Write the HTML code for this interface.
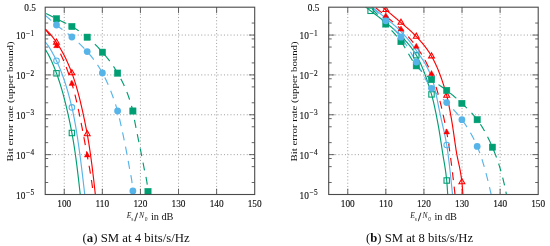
<!DOCTYPE html><html><head><meta charset="utf-8"><title>BER plots</title><style>html,body{margin:0;padding:0;background:#fff;}body{width:550px;height:246px;overflow:hidden;}svg{display:block;}</style></head><body>
<svg width="550" height="246" viewBox="0 0 550 246">
<defs>
<clipPath id="c1"><rect x="45.2" y="7.2" width="209.5" height="187.3"/></clipPath>
<clipPath id="c2"><rect x="328.7" y="7.2" width="209.5" height="187.3"/></clipPath>
</defs>
<rect width="550" height="246" fill="#fff"/>
<g stroke="#8c8c8c" stroke-width="0.8" stroke-dasharray="1.05 2.2" fill="none">
<line x1="64.25" y1="7.2" x2="64.25" y2="194.5"/>
<line x1="102.34" y1="7.2" x2="102.34" y2="194.5"/>
<line x1="140.43" y1="7.2" x2="140.43" y2="194.5"/>
<line x1="178.52" y1="7.2" x2="178.52" y2="194.5"/>
<line x1="216.61" y1="7.2" x2="216.61" y2="194.5"/>
<line x1="45.2" y1="35.06" x2="254.7" y2="35.06"/>
<line x1="45.2" y1="74.92" x2="254.7" y2="74.92"/>
<line x1="45.2" y1="114.78" x2="254.7" y2="114.78"/>
<line x1="45.2" y1="154.64" x2="254.7" y2="154.64"/>
</g>
<g stroke="#4a4a4a" stroke-width="0.85" fill="none">
<line x1="64.25" y1="7.2" x2="64.25" y2="13"/>
<line x1="64.25" y1="194.5" x2="64.25" y2="188.7"/>
<line x1="102.34" y1="7.2" x2="102.34" y2="13"/>
<line x1="102.34" y1="194.5" x2="102.34" y2="188.7"/>
<line x1="140.43" y1="7.2" x2="140.43" y2="13"/>
<line x1="140.43" y1="194.5" x2="140.43" y2="188.7"/>
<line x1="178.52" y1="7.2" x2="178.52" y2="13"/>
<line x1="178.52" y1="194.5" x2="178.52" y2="188.7"/>
<line x1="216.61" y1="7.2" x2="216.61" y2="13"/>
<line x1="216.61" y1="194.5" x2="216.61" y2="188.7"/>
<line x1="45.2" y1="35.06" x2="51" y2="35.06"/>
<line x1="254.7" y1="35.06" x2="248.9" y2="35.06"/>
<line x1="45.2" y1="74.92" x2="51" y2="74.92"/>
<line x1="254.7" y1="74.92" x2="248.9" y2="74.92"/>
<line x1="45.2" y1="114.78" x2="51" y2="114.78"/>
<line x1="254.7" y1="114.78" x2="248.9" y2="114.78"/>
<line x1="45.2" y1="154.64" x2="51" y2="154.64"/>
<line x1="254.7" y1="154.64" x2="248.9" y2="154.64"/>
<line x1="45.2" y1="182.5" x2="48.2" y2="182.5"/>
<line x1="254.7" y1="182.5" x2="251.7" y2="182.5"/>
<line x1="45.2" y1="166.64" x2="48.2" y2="166.64"/>
<line x1="254.7" y1="166.64" x2="251.7" y2="166.64"/>
<line x1="45.2" y1="158.5" x2="48.2" y2="158.5"/>
<line x1="254.7" y1="158.5" x2="251.7" y2="158.5"/>
<line x1="45.2" y1="142.64" x2="48.2" y2="142.64"/>
<line x1="254.7" y1="142.64" x2="251.7" y2="142.64"/>
<line x1="45.2" y1="126.78" x2="48.2" y2="126.78"/>
<line x1="254.7" y1="126.78" x2="251.7" y2="126.78"/>
<line x1="45.2" y1="118.64" x2="48.2" y2="118.64"/>
<line x1="254.7" y1="118.64" x2="251.7" y2="118.64"/>
<line x1="45.2" y1="102.78" x2="48.2" y2="102.78"/>
<line x1="254.7" y1="102.78" x2="251.7" y2="102.78"/>
<line x1="45.2" y1="86.92" x2="48.2" y2="86.92"/>
<line x1="254.7" y1="86.92" x2="251.7" y2="86.92"/>
<line x1="45.2" y1="78.78" x2="48.2" y2="78.78"/>
<line x1="254.7" y1="78.78" x2="251.7" y2="78.78"/>
<line x1="45.2" y1="62.92" x2="48.2" y2="62.92"/>
<line x1="254.7" y1="62.92" x2="251.7" y2="62.92"/>
<line x1="45.2" y1="47.06" x2="48.2" y2="47.06"/>
<line x1="254.7" y1="47.06" x2="251.7" y2="47.06"/>
<line x1="45.2" y1="38.92" x2="48.2" y2="38.92"/>
<line x1="254.7" y1="38.92" x2="251.7" y2="38.92"/>
<line x1="45.2" y1="23.06" x2="48.2" y2="23.06"/>
<line x1="254.7" y1="23.06" x2="251.7" y2="23.06"/>
</g>
<g clip-path="url(#c1)">
<path d="M45.2 49.5L45.45 49.84L45.7 50.2L45.95 50.56L46.2 50.93L46.45 51.32L46.7 51.71L46.95 52.11L47.2 52.52L47.45 52.94L47.7 53.37L47.95 53.81L48.2 54.26L48.45 54.71L48.7 55.18L48.94 55.65L49.19 56.13L49.44 56.62L49.69 57.12L49.94 57.62L50.19 58.13L50.44 58.65L50.69 59.18L50.94 59.72L51.19 60.26L51.44 60.81L51.69 61.37L51.94 61.93L52.19 62.5L52.44 63.08L52.69 63.66L52.94 64.25L53.19 64.85L53.44 65.45L53.69 66.06L53.94 66.67L54.19 67.3L54.44 67.92L54.69 68.55L54.94 69.19L55.19 69.83L55.44 70.48L55.69 71.13L55.93 71.79L56.18 72.46L56.43 73.12L56.68 73.8L56.93 74.48L57.18 75.17L57.43 75.87L57.68 76.57L57.93 77.29L58.18 78.01L58.43 78.74L58.68 79.48L58.93 80.23L59.18 80.99L59.43 81.76L59.68 82.53L59.93 83.32L60.18 84.11L60.43 84.92L60.68 85.73L60.93 86.55L61.18 87.38L61.43 88.22L61.68 89.07L61.93 89.94L62.18 90.81L62.43 91.68L62.68 92.57L62.93 93.47L63.17 94.38L63.42 95.3L63.67 96.23L63.92 97.17L64.17 98.12L64.42 99.08L64.67 100.05L64.92 101.03L65.17 102.03L65.42 103.03L65.67 104.04L65.92 105.07L66.17 106.1L66.42 107.15L66.67 108.2L66.92 109.27L67.17 110.35L67.42 111.44L67.67 112.54L67.92 113.66L68.17 114.78L68.42 115.92L68.67 117.06L68.92 118.22L69.17 119.39L69.42 120.58L69.67 121.77L69.92 122.98L70.17 124.2L70.41 125.43L70.66 126.67L70.91 127.92L71.16 129.19L71.41 130.47L71.66 131.76L71.91 133.07L72.16 134.4L72.41 135.76L72.66 137.16L72.91 138.59L73.16 140.05L73.41 141.55L73.66 143.08L73.91 144.65L74.16 146.25L74.41 147.88L74.66 149.54L74.91 151.24L75.16 152.96L75.41 154.72L75.66 156.51L75.91 158.33L76.16 160.18L76.41 162.07L76.66 163.98L76.91 165.92L77.16 167.9L77.4 169.9L77.65 171.93L77.9 174L78.15 176.09L78.4 178.21L78.65 180.36L78.9 182.53L79.15 184.74L79.4 186.97L79.65 189.24L79.9 191.53L80.15 193.84L80.4 196.33L80.65 199.13L80.9 202" fill="none" stroke="#009e73" stroke-width="1.15" stroke-linejoin="round"/>
<path d="M45.2 42L45.45 42.28L45.7 42.56L45.95 42.85L46.2 43.15L46.45 43.45L46.7 43.76L46.95 44.08L47.2 44.41L47.45 44.75L47.7 45.09L47.95 45.43L48.2 45.79L48.45 46.15L48.7 46.52L48.95 46.89L49.2 47.27L49.44 47.66L49.69 48.05L49.94 48.45L50.19 48.86L50.44 49.27L50.69 49.68L50.94 50.11L51.19 50.53L51.44 50.97L51.69 51.41L51.94 51.85L52.19 52.3L52.44 52.76L52.69 53.22L52.94 53.68L53.19 54.15L53.44 54.63L53.69 55.1L53.94 55.59L54.19 56.08L54.44 56.57L54.69 57.07L54.94 57.57L55.19 58.08L55.44 58.59L55.69 59.1L55.94 59.62L56.19 60.14L56.44 60.66L56.69 61.19L56.94 61.73L57.19 62.27L57.43 62.81L57.68 63.36L57.93 63.92L58.18 64.48L58.43 65.05L58.68 65.62L58.93 66.2L59.18 66.78L59.43 67.38L59.68 67.97L59.93 68.58L60.18 69.19L60.43 69.81L60.68 70.43L60.93 71.06L61.18 71.7L61.43 72.34L61.68 73L61.93 73.66L62.18 74.32L62.43 75L62.68 75.68L62.93 76.37L63.18 77.07L63.43 77.78L63.68 78.49L63.93 79.22L64.18 79.95L64.43 80.69L64.68 81.44L64.93 82.2L65.18 82.96L65.42 83.74L65.67 84.52L65.92 85.32L66.17 86.12L66.42 86.93L66.67 87.76L66.92 88.59L67.17 89.43L67.42 90.28L67.67 91.15L67.92 92.02L68.17 92.9L68.42 93.8L68.67 94.7L68.92 95.62L69.17 96.54L69.42 97.48L69.67 98.43L69.92 99.38L70.17 100.35L70.42 101.34L70.67 102.33L70.92 103.33L71.17 104.35L71.42 105.38L71.67 106.42L71.92 107.47L72.17 108.54L72.42 109.65L72.67 110.77L72.92 111.93L73.17 113.11L73.41 114.32L73.66 115.56L73.91 116.82L74.16 118.11L74.41 119.43L74.66 120.77L74.91 122.14L75.16 123.53L75.41 124.95L75.66 126.4L75.91 127.87L76.16 129.36L76.41 130.88L76.66 132.43L76.91 134L77.16 135.59L77.41 137.21L77.66 138.85L77.91 140.52L78.16 142.21L78.41 143.92L78.66 145.66L78.91 147.42L79.16 149.2L79.41 151L79.66 152.83L79.91 154.68L80.16 156.55L80.41 158.45L80.66 160.36L80.91 162.3L81.16 164.26L81.4 166.24L81.65 168.24L81.9 170.27L82.15 172.31L82.4 174.37L82.65 176.46L82.9 178.56L83.15 180.69L83.4 182.84L83.65 185L83.9 187.19L84.15 189.39L84.4 191.61L84.65 193.86L84.9 196.3L85.15 199.12L85.4 202" fill="none" stroke="#56b4e9" stroke-width="1.15" stroke-linejoin="round"/>
<path d="M45.2 29L45.45 29.21L45.7 29.43L45.95 29.65L46.2 29.88L46.45 30.11L46.69 30.34L46.94 30.58L47.19 30.82L47.44 31.06L47.69 31.31L47.94 31.57L48.19 31.83L48.44 32.09L48.69 32.35L48.94 32.62L49.18 32.9L49.43 33.17L49.68 33.45L49.93 33.74L50.18 34.03L50.43 34.32L50.68 34.61L50.93 34.91L51.18 35.21L51.43 35.52L51.67 35.83L51.92 36.14L52.17 36.45L52.42 36.77L52.67 37.09L52.92 37.42L53.17 37.75L53.42 38.08L53.67 38.41L53.92 38.75L54.16 39.09L54.41 39.43L54.66 39.77L54.91 40.12L55.16 40.47L55.41 40.82L55.66 41.18L55.91 41.54L56.16 41.9L56.41 42.26L56.65 42.63L56.9 43L57.15 43.37L57.4 43.74L57.65 44.12L57.9 44.51L58.15 44.89L58.4 45.28L58.65 45.67L58.9 46.07L59.15 46.47L59.39 46.87L59.64 47.28L59.89 47.69L60.14 48.11L60.39 48.53L60.64 48.95L60.89 49.38L61.14 49.81L61.39 50.24L61.64 50.68L61.88 51.12L62.13 51.57L62.38 52.02L62.63 52.48L62.88 52.94L63.13 53.41L63.38 53.88L63.63 54.35L63.88 54.83L64.13 55.31L64.37 55.8L64.62 56.3L64.87 56.8L65.12 57.3L65.37 57.81L65.62 58.32L65.87 58.84L66.12 59.36L66.37 59.89L66.62 60.43L66.86 60.97L67.11 61.51L67.36 62.06L67.61 62.62L67.86 63.18L68.11 63.74L68.36 64.32L68.61 64.9L68.86 65.48L69.11 66.07L69.35 66.66L69.6 67.27L69.85 67.87L70.1 68.49L70.35 69.11L70.6 69.73L70.85 70.36L71.1 71L71.35 71.65L71.6 72.3L71.85 72.95L72.09 73.62L72.34 74.29L72.59 74.98L72.84 75.68L73.09 76.38L73.34 77.1L73.59 77.82L73.84 78.56L74.09 79.31L74.34 80.07L74.58 80.84L74.83 81.62L75.08 82.41L75.33 83.21L75.58 84.02L75.83 84.84L76.08 85.67L76.33 86.51L76.58 87.37L76.83 88.23L77.07 89.11L77.32 89.99L77.57 90.89L77.82 91.8L78.07 92.72L78.32 93.64L78.57 94.58L78.82 95.53L79.07 96.5L79.32 97.47L79.56 98.45L79.81 99.45L80.06 100.45L80.31 101.47L80.56 102.49L80.81 103.53L81.06 104.58L81.31 105.64L81.56 106.71L81.81 107.8L82.05 108.89L82.3 109.99L82.55 111.11L82.8 112.24L83.05 113.37L83.3 114.52L83.55 115.68L83.8 116.86L84.05 118.04L84.3 119.23L84.55 120.44L84.79 121.66L85.04 122.88L85.29 124.12L85.54 125.37L85.79 126.64L86.04 127.91L86.29 129.2L86.54 130.49L86.79 131.8L87.04 133.12L87.28 134.45L87.53 135.82L87.78 137.21L88.03 138.64L88.28 140.1L88.53 141.6L88.78 143.13L89.03 144.69L89.28 146.29L89.53 147.92L89.77 149.58L90.02 151.27L90.27 152.99L90.52 154.75L90.77 156.54L91.02 158.36L91.27 160.21L91.52 162.09L91.77 164L92.02 165.94L92.26 167.91L92.51 169.91L92.76 171.95L93.01 174.01L93.26 176.1L93.51 178.22L93.76 180.37L94.01 182.55L94.26 184.75L94.51 186.99L94.75 189.25L95 191.54L95.25 193.86L95.5 196.34L95.75 199.14L96 202" fill="none" stroke="#ff0000" stroke-width="1.15" stroke-linejoin="round"/>
<path d="M45.2 29.5L45.45 29.76L45.7 30.03L45.95 30.3L46.2 30.58L46.44 30.86L46.69 31.15L46.94 31.45L47.19 31.74L47.44 32.05L47.69 32.35L47.94 32.67L48.19 32.99L48.44 33.31L48.69 33.64L48.93 33.97L49.18 34.3L49.43 34.65L49.68 34.99L49.93 35.34L50.18 35.7L50.43 36.05L50.68 36.42L50.93 36.78L51.18 37.16L51.42 37.53L51.67 37.91L51.92 38.29L52.17 38.68L52.42 39.07L52.67 39.47L52.92 39.87L53.17 40.27L53.42 40.68L53.67 41.09L53.91 41.5L54.16 41.92L54.41 42.34L54.66 42.76L54.91 43.19L55.16 43.62L55.41 44.06L55.66 44.5L55.91 44.94L56.16 45.38L56.4 45.83L56.65 46.28L56.9 46.73L57.15 47.19L57.4 47.65L57.65 48.12L57.9 48.59L58.15 49.07L58.4 49.55L58.64 50.03L58.89 50.52L59.14 51.02L59.39 51.52L59.64 52.02L59.89 52.53L60.14 53.04L60.39 53.56L60.64 54.08L60.89 54.61L61.13 55.14L61.38 55.68L61.63 56.22L61.88 56.77L62.13 57.32L62.38 57.88L62.63 58.45L62.88 59.02L63.13 59.59L63.38 60.17L63.62 60.76L63.87 61.35L64.12 61.95L64.37 62.55L64.62 63.16L64.87 63.77L65.12 64.39L65.37 65.02L65.62 65.65L65.87 66.29L66.11 66.93L66.36 67.58L66.61 68.24L66.86 68.9L67.11 69.57L67.36 70.24L67.61 70.92L67.86 71.61L68.11 72.3L68.36 73L68.6 73.71L68.85 74.42L69.1 75.14L69.35 75.87L69.6 76.6L69.85 77.34L70.1 78.09L70.35 78.84L70.6 79.6L70.84 80.37L71.09 81.14L71.34 81.93L71.59 82.71L71.84 83.51L72.09 84.32L72.34 85.14L72.59 85.98L72.84 86.83L73.09 87.7L73.33 88.59L73.58 89.49L73.83 90.41L74.08 91.34L74.33 92.29L74.58 93.25L74.83 94.23L75.08 95.22L75.33 96.23L75.58 97.25L75.82 98.28L76.07 99.32L76.32 100.38L76.57 101.45L76.82 102.53L77.07 103.63L77.32 104.73L77.57 105.85L77.82 106.98L78.07 108.12L78.31 109.27L78.56 110.44L78.81 111.61L79.06 112.79L79.31 113.98L79.56 115.18L79.81 116.39L80.06 117.62L80.31 118.84L80.56 120.08L80.8 121.33L81.05 122.58L81.3 123.84L81.55 125.11L81.8 126.39L82.05 127.67L82.3 128.96L82.55 130.26L82.8 131.57L83.04 132.87L83.29 134.19L83.54 135.51L83.79 136.84L84.04 138.17L84.29 139.51L84.54 140.85L84.79 142.19L85.04 143.54L85.29 144.89L85.53 146.25L85.78 147.61L86.03 148.97L86.28 150.34L86.53 151.71L86.78 153.08L87.03 154.45L87.28 155.83L87.53 157.19L87.78 158.55L88.02 159.91L88.27 161.26L88.52 162.62L88.77 163.99L89.02 165.36L89.27 166.75L89.52 168.16L89.77 169.59L90.02 171.05L90.27 172.53L90.51 174.05L90.76 175.6L91.01 177.19L91.26 178.83L91.51 180.51L91.76 182.24L92.01 184.03L92.26 185.87L92.51 187.77L92.76 189.74L93 191.78L93.25 193.89L93.5 196.27L93.75 199.08L94 202" fill="none" stroke="#ff0000" stroke-width="1.15" stroke-linejoin="round" stroke-dasharray="8 6.5" stroke-dashoffset="0.3"/>
<path d="M45.2 13L45.45 13.13L45.7 13.26L45.95 13.39L46.2 13.52L46.45 13.65L46.7 13.78L46.95 13.9L47.2 14.03L47.45 14.16L47.7 14.29L47.94 14.42L48.19 14.55L48.44 14.68L48.69 14.81L48.94 14.94L49.19 15.06L49.44 15.19L49.69 15.32L49.94 15.45L50.19 15.58L50.44 15.71L50.69 15.83L50.94 15.96L51.19 16.09L51.44 16.22L51.69 16.35L51.94 16.47L52.19 16.6L52.44 16.73L52.69 16.86L52.94 16.99L53.18 17.11L53.43 17.24L53.68 17.37L53.93 17.49L54.18 17.62L54.43 17.75L54.68 17.88L54.93 18L55.18 18.13L55.43 18.26L55.68 18.38L55.93 18.51L56.18 18.64L56.43 18.76L56.68 18.89L56.93 19.02L57.18 19.14L57.43 19.26L57.68 19.39L57.93 19.51L58.17 19.63L58.42 19.75L58.67 19.88L58.92 20L59.17 20.12L59.42 20.24L59.67 20.36L59.92 20.48L60.17 20.59L60.42 20.71L60.67 20.83L60.92 20.95L61.17 21.07L61.42 21.19L61.67 21.3L61.92 21.42L62.17 21.54L62.42 21.66L62.67 21.78L62.92 21.89L63.17 22.01L63.41 22.13L63.66 22.25L63.91 22.37L64.16 22.49L64.41 22.6L64.66 22.72L64.91 22.84L65.16 22.96L65.41 23.09L65.66 23.21L65.91 23.33L66.16 23.45L66.41 23.57L66.66 23.7L66.91 23.82L67.16 23.95L67.41 24.07L67.66 24.2L67.91 24.33L68.16 24.45L68.41 24.58L68.65 24.71L68.9 24.84L69.15 24.98L69.4 25.11L69.65 25.24L69.9 25.38L70.15 25.51L70.4 25.65L70.65 25.79L70.9 25.93L71.15 26.07L71.4 26.21L71.65 26.35L71.9 26.5L72.15 26.64L72.4 26.79L72.65 26.94L72.9 27.09L73.15 27.24L73.4 27.39L73.64 27.54L73.89 27.69L74.14 27.85L74.39 28L74.64 28.16L74.89 28.31L75.14 28.47L75.39 28.63L75.64 28.79L75.89 28.95L76.14 29.11L76.39 29.27L76.64 29.43L76.89 29.59L77.14 29.76L77.39 29.92L77.64 30.09L77.89 30.26L78.14 30.43L78.39 30.6L78.64 30.77L78.88 30.94L79.13 31.11L79.38 31.28L79.63 31.46L79.88 31.63L80.13 31.81L80.38 31.99L80.63 32.16L80.88 32.34L81.13 32.52L81.38 32.7L81.63 32.89L81.88 33.07L82.13 33.25L82.38 33.44L82.63 33.62L82.88 33.81L83.13 34L83.38 34.19L83.63 34.38L83.88 34.57L84.12 34.76L84.37 34.95L84.62 35.14L84.87 35.34L85.12 35.53L85.37 35.73L85.62 35.93L85.87 36.13L86.12 36.33L86.37 36.53L86.62 36.73L86.87 36.93L87.12 37.13L87.37 37.34L87.62 37.54L87.87 37.75L88.12 37.96L88.37 38.17L88.62 38.38L88.87 38.6L89.11 38.81L89.36 39.03L89.61 39.24L89.86 39.46L90.11 39.68L90.36 39.9L90.61 40.13L90.86 40.35L91.11 40.58L91.36 40.8L91.61 41.03L91.86 41.26L92.11 41.49L92.36 41.72L92.61 41.96L92.86 42.19L93.11 42.43L93.36 42.67L93.61 42.91L93.86 43.15L94.11 43.39L94.35 43.63L94.6 43.88L94.85 44.13L95.1 44.37L95.35 44.62L95.6 44.87L95.85 45.12L96.1 45.38L96.35 45.63L96.6 45.89L96.85 46.14L97.1 46.4L97.35 46.66L97.6 46.92L97.85 47.19L98.1 47.45L98.35 47.71L98.6 47.98L98.85 48.25L99.1 48.52L99.35 48.79L99.59 49.06L99.84 49.33L100.09 49.61L100.34 49.88L100.59 50.16L100.84 50.44L101.09 50.71L101.34 51L101.59 51.28L101.84 51.56L102.09 51.84L102.34 52.13L102.59 52.42L102.84 52.7L103.09 52.99L103.34 53.28L103.59 53.57L103.84 53.86L104.09 54.15L104.34 54.44L104.59 54.74L104.83 55.03L105.08 55.33L105.33 55.62L105.58 55.92L105.83 56.22L106.08 56.52L106.33 56.82L106.58 57.13L106.83 57.43L107.08 57.74L107.33 58.05L107.58 58.36L107.83 58.67L108.08 58.98L108.33 59.3L108.58 59.62L108.83 59.94L109.08 60.26L109.33 60.58L109.58 60.91L109.82 61.24L110.07 61.57L110.32 61.91L110.57 62.25L110.82 62.59L111.07 62.93L111.32 63.27L111.57 63.62L111.82 63.97L112.07 64.33L112.32 64.69L112.57 65.05L112.82 65.41L113.07 65.78L113.32 66.15L113.57 66.52L113.82 66.9L114.07 67.28L114.32 67.67L114.57 68.05L114.82 68.45L115.06 68.84L115.31 69.24L115.56 69.65L115.81 70.05L116.06 70.47L116.31 70.88L116.56 71.3L116.81 71.73L117.06 72.16L117.31 72.59L117.56 73.03L117.81 73.47L118.06 73.91L118.31 74.36L118.56 74.8L118.81 75.24L119.06 75.69L119.31 76.14L119.56 76.59L119.81 77.05L120.06 77.5L120.3 77.96L120.55 78.42L120.8 78.89L121.05 79.36L121.3 79.84L121.55 80.31L121.8 80.8L122.05 81.28L122.3 81.78L122.55 82.28L122.8 82.78L123.05 83.29L123.3 83.81L123.55 84.33L123.8 84.86L124.05 85.39L124.3 85.94L124.55 86.49L124.8 87.04L125.05 87.61L125.29 88.19L125.54 88.77L125.79 89.36L126.04 89.96L126.29 90.57L126.54 91.19L126.79 91.82L127.04 92.46L127.29 93.11L127.54 93.77L127.79 94.44L128.04 95.12L128.29 95.82L128.54 96.52L128.79 97.24L129.04 97.97L129.29 98.71L129.54 99.46L129.79 100.23L130.04 101.01L130.29 101.81L130.53 102.61L130.78 103.43L131.03 104.27L131.28 105.12L131.53 105.99L131.78 106.87L132.03 107.76L132.28 108.67L132.53 109.6L132.78 110.54L133.03 111.54L133.28 112.76L133.53 114.16L133.78 115.67L134.03 117.23L134.28 118.74L134.53 120.15L134.78 121.48L135.03 122.8L135.28 124.11L135.53 125.41L135.77 126.69L136.02 127.96L136.27 129.22L136.52 130.48L136.77 131.72L137.02 132.96L137.27 134.19L137.52 135.41L137.77 136.63L138.02 137.85L138.27 139.06L138.52 140.27L138.77 141.48L139.02 142.68L139.27 143.89L139.52 145.09L139.77 146.3L140.02 147.51L140.27 148.73L140.52 149.94L140.76 151.16L141.01 152.39L141.26 153.63L141.51 154.87L141.76 156.11L142.01 157.37L142.26 158.64L142.51 159.92L142.76 161.21L143.01 162.51L143.26 163.82L143.51 165.15L143.76 166.49L144.01 167.85L144.26 169.22L144.51 170.51L144.76 171.7L145.01 172.83L145.26 173.92L145.51 174.99L145.76 176.09L146 177.23L146.25 178.45L146.5 179.77L146.75 181.23L147 182.85L147.25 184.66L147.5 186.68L147.75 188.96L148 191.51L148.25 196.02L148.5 202" fill="none" stroke="#009e73" stroke-width="1.15" stroke-linejoin="round" stroke-dasharray="8 6.5" stroke-dashoffset="13.5"/>
<path d="M45.2 15.2L45.45 15.43L45.7 15.65L45.95 15.88L46.2 16.1L46.45 16.33L46.7 16.55L46.95 16.77L47.2 17L47.45 17.22L47.7 17.44L47.95 17.66L48.2 17.89L48.45 18.11L48.7 18.33L48.95 18.55L49.2 18.77L49.45 18.99L49.7 19.21L49.95 19.43L50.2 19.65L50.45 19.86L50.7 20.08L50.95 20.3L51.2 20.52L51.45 20.73L51.7 20.95L51.95 21.16L52.2 21.38L52.45 21.59L52.7 21.81L52.95 22.02L53.2 22.23L53.45 22.45L53.7 22.66L53.95 22.87L54.19 23.08L54.44 23.29L54.69 23.5L54.94 23.71L55.19 23.92L55.44 24.13L55.69 24.33L55.94 24.54L56.19 24.75L56.44 24.95L56.69 25.16L56.94 25.36L57.19 25.57L57.44 25.77L57.69 25.97L57.94 26.17L58.19 26.36L58.44 26.56L58.69 26.76L58.94 26.95L59.19 27.15L59.44 27.34L59.69 27.53L59.94 27.73L60.19 27.92L60.44 28.11L60.69 28.3L60.94 28.49L61.19 28.68L61.44 28.87L61.69 29.05L61.94 29.24L62.19 29.43L62.44 29.62L62.69 29.8L62.94 29.99L63.19 30.18L63.44 30.36L63.69 30.55L63.94 30.74L64.19 30.92L64.44 31.11L64.69 31.3L64.94 31.49L65.19 31.67L65.44 31.86L65.69 32.05L65.94 32.24L66.19 32.43L66.44 32.62L66.69 32.81L66.94 33L67.19 33.19L67.44 33.39L67.69 33.58L67.94 33.77L68.19 33.97L68.44 34.16L68.69 34.36L68.94 34.56L69.19 34.76L69.44 34.96L69.69 35.16L69.94 35.36L70.19 35.57L70.44 35.77L70.69 35.98L70.94 36.18L71.19 36.39L71.44 36.6L71.68 36.82L71.93 37.03L72.18 37.24L72.43 37.46L72.68 37.67L72.93 37.89L73.18 38.1L73.43 38.32L73.68 38.53L73.93 38.75L74.18 38.97L74.43 39.18L74.68 39.4L74.93 39.62L75.18 39.84L75.43 40.06L75.68 40.28L75.93 40.5L76.18 40.72L76.43 40.94L76.68 41.16L76.93 41.38L77.18 41.61L77.43 41.83L77.68 42.06L77.93 42.28L78.18 42.51L78.43 42.74L78.68 42.96L78.93 43.19L79.18 43.43L79.43 43.66L79.68 43.89L79.93 44.13L80.18 44.36L80.43 44.6L80.68 44.84L80.93 45.07L81.18 45.32L81.43 45.56L81.68 45.8L81.93 46.05L82.18 46.29L82.43 46.54L82.68 46.79L82.93 47.04L83.18 47.29L83.43 47.55L83.68 47.8L83.93 48.06L84.18 48.32L84.43 48.58L84.68 48.84L84.93 49.11L85.18 49.37L85.43 49.64L85.68 49.91L85.93 50.18L86.18 50.46L86.43 50.73L86.68 51.01L86.93 51.29L87.18 51.57L87.43 51.86L87.68 52.14L87.93 52.43L88.18 52.72L88.43 53.01L88.68 53.3L88.93 53.59L89.18 53.88L89.42 54.18L89.67 54.47L89.92 54.77L90.17 55.07L90.42 55.37L90.67 55.68L90.92 55.98L91.17 56.29L91.42 56.6L91.67 56.91L91.92 57.22L92.17 57.54L92.42 57.85L92.67 58.17L92.92 58.5L93.17 58.82L93.42 59.15L93.67 59.48L93.92 59.81L94.17 60.14L94.42 60.48L94.67 60.82L94.92 61.16L95.17 61.5L95.42 61.85L95.67 62.2L95.92 62.55L96.17 62.91L96.42 63.27L96.67 63.63L96.92 64L97.17 64.37L97.42 64.74L97.67 65.11L97.92 65.49L98.17 65.87L98.42 66.26L98.67 66.65L98.92 67.04L99.17 67.44L99.42 67.83L99.67 68.24L99.92 68.64L100.17 69.06L100.42 69.47L100.67 69.89L100.92 70.31L101.17 70.74L101.42 71.17L101.67 71.6L101.92 72.04L102.17 72.48L102.42 72.93L102.67 73.38L102.92 73.84L103.17 74.3L103.42 74.77L103.67 75.24L103.92 75.72L104.17 76.2L104.42 76.69L104.67 77.19L104.92 77.69L105.17 78.19L105.42 78.7L105.67 79.22L105.92 79.74L106.17 80.27L106.42 80.8L106.67 81.34L106.92 81.88L107.16 82.43L107.41 82.99L107.66 83.55L107.91 84.12L108.16 84.69L108.41 85.27L108.66 85.85L108.91 86.44L109.16 87.04L109.41 87.64L109.66 88.25L109.91 88.87L110.16 89.49L110.41 90.12L110.66 90.75L110.91 91.39L111.16 92.04L111.41 92.69L111.66 93.35L111.91 94.02L112.16 94.69L112.41 95.37L112.66 96.05L112.91 96.75L113.16 97.44L113.41 98.15L113.66 98.86L113.91 99.58L114.16 100.31L114.41 101.04L114.66 101.78L114.91 102.52L115.16 103.28L115.41 104.04L115.66 104.8L115.91 105.58L116.16 106.36L116.41 107.15L116.66 107.94L116.91 108.74L117.16 109.55L117.41 110.37L117.66 111.2L117.91 112.07L118.16 113.01L118.41 113.99L118.66 115.02L118.91 116.08L119.16 117.17L119.41 118.27L119.66 119.37L119.91 120.47L120.16 121.58L120.41 122.69L120.66 123.8L120.91 124.92L121.16 126.04L121.41 127.17L121.66 128.3L121.91 129.44L122.16 130.59L122.41 131.74L122.66 132.9L122.91 134.06L123.16 135.24L123.41 136.42L123.66 137.61L123.91 138.8L124.16 140.01L124.41 141.22L124.65 142.44L124.9 143.68L125.15 144.92L125.4 146.17L125.65 147.43L125.9 148.7L126.15 149.98L126.4 151.28L126.65 152.58L126.9 153.9L127.15 155.23L127.4 156.56L127.65 157.92L127.9 159.28L128.15 160.66L128.4 162.05L128.65 163.45L128.9 164.87L129.15 166.3L129.4 167.75L129.65 169.2L129.9 170.59L130.15 171.88L130.4 173.13L130.65 174.37L130.9 175.63L131.15 176.95L131.4 178.37L131.65 179.92L131.9 181.65L132.15 183.58L132.4 185.76L132.65 188.22L132.9 191L133.15 195.74L133.4 202" fill="none" stroke="#56b4e9" stroke-width="1.15" stroke-linejoin="round" stroke-dasharray="8 6.5" stroke-dashoffset="0"/>
<rect x="53.8" y="70.6" width="5.4" height="5.4" fill="none" stroke="#009e73" stroke-width="1.1"/>
<rect x="69.2" y="130.3" width="5.4" height="5.4" fill="none" stroke="#009e73" stroke-width="1.1"/>
<circle cx="56.5" cy="60.8" r="2.8" fill="none" stroke="#56b4e9" stroke-width="1.05"/>
<circle cx="71.9" cy="107.4" r="2.8" fill="none" stroke="#56b4e9" stroke-width="1.05"/>
<polygon points="56.5,39 59.44,44.1 53.56,44.1" fill="none" stroke="#ff0000" stroke-width="1.1"/>
<polygon points="71.9,69.7 74.84,74.8 68.96,74.8" fill="none" stroke="#ff0000" stroke-width="1.1"/>
<polygon points="87.2,130.6 90.14,135.7 84.26,135.7" fill="none" stroke="#ff0000" stroke-width="1.1"/>
<polygon points="56.5,42.65 59.4,47.67 53.6,47.67" fill="#ff0000" stroke="#ff0000" stroke-width="0.4" stroke-linejoin="miter"/>
<polygon points="71.9,80.35 74.8,85.38 69,85.38" fill="#ff0000" stroke="#ff0000" stroke-width="0.4" stroke-linejoin="miter"/>
<polygon points="87.2,152.05 90.1,157.08 84.3,157.08" fill="#ff0000" stroke="#ff0000" stroke-width="0.4" stroke-linejoin="miter"/>
<rect x="53.35" y="15.65" width="6.3" height="6.3" fill="#009e73" stroke="#009e73" stroke-width="0.5"/>
<rect x="68.75" y="23.35" width="6.3" height="6.3" fill="#009e73" stroke="#009e73" stroke-width="0.5"/>
<rect x="84.05" y="34.05" width="6.3" height="6.3" fill="#009e73" stroke="#009e73" stroke-width="0.5"/>
<rect x="99.25" y="49.05" width="6.3" height="6.3" fill="#009e73" stroke="#009e73" stroke-width="0.5"/>
<rect x="114.45" y="69.95" width="6.3" height="6.3" fill="#009e73" stroke="#009e73" stroke-width="0.5"/>
<rect x="129.75" y="107.85" width="6.3" height="6.3" fill="#009e73" stroke="#009e73" stroke-width="0.5"/>
<rect x="144.85" y="188.35" width="6.3" height="6.3" fill="#009e73" stroke="#009e73" stroke-width="0.5"/>
<circle cx="56.5" cy="25" r="3.4" fill="#56b4e9"/>
<circle cx="71.9" cy="37" r="3.4" fill="#56b4e9"/>
<circle cx="87.2" cy="51.6" r="3.4" fill="#56b4e9"/>
<circle cx="102.4" cy="72.9" r="3.4" fill="#56b4e9"/>
<circle cx="117.6" cy="111" r="3.4" fill="#56b4e9"/>
<circle cx="132.9" cy="191" r="3.4" fill="#56b4e9"/>
</g>
<rect x="45.2" y="7.2" width="209.5" height="187.3" fill="none" stroke="#4a4a4a" stroke-width="1.1"/>
<g font-family="Liberation Serif, serif" fill="#111" font-size="9.3" stroke="#111" stroke-width="0.12">
<text x="64.25" y="206.6" text-anchor="middle">100</text>
<text x="102.34" y="206.6" text-anchor="middle">110</text>
<text x="140.43" y="206.6" text-anchor="middle">120</text>
<text x="178.52" y="206.6" text-anchor="middle">130</text>
<text x="216.61" y="206.6" text-anchor="middle">140</text>
<text x="254.7" y="206.6" text-anchor="middle">150</text>
<text x="35.9" y="10.9" text-anchor="end">0.5</text>
<text x="16" y="39.36">10<tspan font-size="7.3" dy="-3.7" dx="0.5" letter-spacing="0.6">&#8722;1</tspan></text>
<text x="16" y="79.22">10<tspan font-size="7.3" dy="-3.7" dx="0.5" letter-spacing="0.6">&#8722;2</tspan></text>
<text x="16" y="119.08">10<tspan font-size="7.3" dy="-3.7" dx="0.5" letter-spacing="0.6">&#8722;3</tspan></text>
<text x="16" y="158.94">10<tspan font-size="7.3" dy="-3.7" dx="0.5" letter-spacing="0.6">&#8722;4</tspan></text>
<text x="16" y="198.8">10<tspan font-size="7.3" dy="-3.7" dx="0.5" letter-spacing="0.6">&#8722;5</tspan></text>
</g>
<g font-family="Liberation Serif, serif"><text x="126.8" y="218.3" font-style="italic" font-size="7.6" fill="#1a1a1a">E</text><text x="131.3" y="220.6" font-size="5.6" fill="#333">s</text><text x="134.4" y="220.6" font-size="11.5" fill="#333" stroke="#333" stroke-width="0.35">/</text><text x="139.1" y="218.3" font-style="italic" font-size="7.6" fill="#1a1a1a">N</text><text x="144.8" y="221.2" font-size="5.6" fill="#333">0</text><text x="150.9" y="219.6" font-size="9.3" fill="#111" textLength="22.6" lengthAdjust="spacingAndGlyphs">in dB</text></g>
<text transform="translate(13.1,101.4) rotate(-90)" text-anchor="middle" font-family="Liberation Serif, serif" font-size="8.4" fill="#111" textLength="120" lengthAdjust="spacingAndGlyphs">Bit error rate (upper bound)</text>
<text x="136.1" y="242.4" text-anchor="middle" font-family="Liberation Serif, serif" font-size="12.2" fill="#111" textLength="107" lengthAdjust="spacingAndGlyphs">(<tspan font-weight="bold">a</tspan>) SM at 4 bits/s/Hz</text>
<g stroke="#8c8c8c" stroke-width="0.8" stroke-dasharray="1.05 2.2" fill="none">
<line x1="347.75" y1="7.2" x2="347.75" y2="194.5"/>
<line x1="385.84" y1="7.2" x2="385.84" y2="194.5"/>
<line x1="423.93" y1="7.2" x2="423.93" y2="194.5"/>
<line x1="462.02" y1="7.2" x2="462.02" y2="194.5"/>
<line x1="500.11" y1="7.2" x2="500.11" y2="194.5"/>
<line x1="328.7" y1="35.06" x2="538.2" y2="35.06"/>
<line x1="328.7" y1="74.92" x2="538.2" y2="74.92"/>
<line x1="328.7" y1="114.78" x2="538.2" y2="114.78"/>
<line x1="328.7" y1="154.64" x2="538.2" y2="154.64"/>
</g>
<g stroke="#4a4a4a" stroke-width="0.85" fill="none">
<line x1="347.75" y1="7.2" x2="347.75" y2="13"/>
<line x1="347.75" y1="194.5" x2="347.75" y2="188.7"/>
<line x1="385.84" y1="7.2" x2="385.84" y2="13"/>
<line x1="385.84" y1="194.5" x2="385.84" y2="188.7"/>
<line x1="423.93" y1="7.2" x2="423.93" y2="13"/>
<line x1="423.93" y1="194.5" x2="423.93" y2="188.7"/>
<line x1="462.02" y1="7.2" x2="462.02" y2="13"/>
<line x1="462.02" y1="194.5" x2="462.02" y2="188.7"/>
<line x1="500.11" y1="7.2" x2="500.11" y2="13"/>
<line x1="500.11" y1="194.5" x2="500.11" y2="188.7"/>
<line x1="328.7" y1="35.06" x2="334.5" y2="35.06"/>
<line x1="538.2" y1="35.06" x2="532.4" y2="35.06"/>
<line x1="328.7" y1="74.92" x2="334.5" y2="74.92"/>
<line x1="538.2" y1="74.92" x2="532.4" y2="74.92"/>
<line x1="328.7" y1="114.78" x2="334.5" y2="114.78"/>
<line x1="538.2" y1="114.78" x2="532.4" y2="114.78"/>
<line x1="328.7" y1="154.64" x2="334.5" y2="154.64"/>
<line x1="538.2" y1="154.64" x2="532.4" y2="154.64"/>
<line x1="328.7" y1="182.5" x2="331.7" y2="182.5"/>
<line x1="538.2" y1="182.5" x2="535.2" y2="182.5"/>
<line x1="328.7" y1="166.64" x2="331.7" y2="166.64"/>
<line x1="538.2" y1="166.64" x2="535.2" y2="166.64"/>
<line x1="328.7" y1="158.5" x2="331.7" y2="158.5"/>
<line x1="538.2" y1="158.5" x2="535.2" y2="158.5"/>
<line x1="328.7" y1="142.64" x2="331.7" y2="142.64"/>
<line x1="538.2" y1="142.64" x2="535.2" y2="142.64"/>
<line x1="328.7" y1="126.78" x2="331.7" y2="126.78"/>
<line x1="538.2" y1="126.78" x2="535.2" y2="126.78"/>
<line x1="328.7" y1="118.64" x2="331.7" y2="118.64"/>
<line x1="538.2" y1="118.64" x2="535.2" y2="118.64"/>
<line x1="328.7" y1="102.78" x2="331.7" y2="102.78"/>
<line x1="538.2" y1="102.78" x2="535.2" y2="102.78"/>
<line x1="328.7" y1="86.92" x2="331.7" y2="86.92"/>
<line x1="538.2" y1="86.92" x2="535.2" y2="86.92"/>
<line x1="328.7" y1="78.78" x2="331.7" y2="78.78"/>
<line x1="538.2" y1="78.78" x2="535.2" y2="78.78"/>
<line x1="328.7" y1="62.92" x2="331.7" y2="62.92"/>
<line x1="538.2" y1="62.92" x2="535.2" y2="62.92"/>
<line x1="328.7" y1="47.06" x2="331.7" y2="47.06"/>
<line x1="538.2" y1="47.06" x2="535.2" y2="47.06"/>
<line x1="328.7" y1="38.92" x2="331.7" y2="38.92"/>
<line x1="538.2" y1="38.92" x2="535.2" y2="38.92"/>
<line x1="328.7" y1="23.06" x2="331.7" y2="23.06"/>
<line x1="538.2" y1="23.06" x2="535.2" y2="23.06"/>
</g>
<g clip-path="url(#c2)">
<path d="M362 4L362.25 4.2L362.5 4.4L362.75 4.6L363 4.8L363.25 5L363.5 5.2L363.75 5.39L364 5.59L364.25 5.79L364.5 5.99L364.75 6.19L365 6.39L365.25 6.59L365.5 6.78L365.75 6.98L366 7.18L366.25 7.38L366.5 7.57L366.75 7.77L367 7.97L367.25 8.17L367.5 8.36L367.75 8.56L368 8.76L368.25 8.95L368.5 9.15L368.75 9.35L369 9.54L369.25 9.74L369.5 9.94L369.75 10.13L370 10.33L370.25 10.52L370.5 10.72L370.74 10.91L370.99 11.11L371.24 11.3L371.49 11.49L371.74 11.69L371.99 11.88L372.24 12.07L372.49 12.26L372.74 12.45L372.99 12.64L373.24 12.83L373.49 13.02L373.74 13.21L373.99 13.4L374.24 13.59L374.49 13.78L374.74 13.97L374.99 14.16L375.24 14.34L375.49 14.53L375.74 14.72L375.99 14.91L376.24 15.1L376.49 15.28L376.74 15.47L376.99 15.66L377.24 15.85L377.49 16.03L377.74 16.22L377.99 16.41L378.24 16.6L378.49 16.79L378.74 16.97L378.99 17.16L379.24 17.35L379.49 17.54L379.74 17.73L379.99 17.92L380.24 18.11L380.49 18.3L380.74 18.49L380.99 18.68L381.24 18.88L381.49 19.07L381.74 19.26L381.99 19.46L382.24 19.65L382.49 19.85L382.74 20.04L382.99 20.24L383.24 20.43L383.49 20.63L383.74 20.83L383.99 21.03L384.24 21.23L384.49 21.43L384.74 21.63L384.99 21.83L385.24 22.04L385.49 22.24L385.74 22.45L385.99 22.65L386.24 22.86L386.49 23.06L386.74 23.27L386.99 23.48L387.24 23.68L387.49 23.89L387.74 24.09L387.98 24.3L388.23 24.5L388.48 24.71L388.73 24.92L388.98 25.12L389.23 25.33L389.48 25.54L389.73 25.74L389.98 25.95L390.23 26.16L390.48 26.37L390.73 26.57L390.98 26.78L391.23 26.99L391.48 27.2L391.73 27.42L391.98 27.63L392.23 27.84L392.48 28.05L392.73 28.27L392.98 28.48L393.23 28.7L393.48 28.91L393.73 29.13L393.98 29.35L394.23 29.57L394.48 29.79L394.73 30.01L394.98 30.23L395.23 30.45L395.48 30.68L395.73 30.9L395.98 31.13L396.23 31.36L396.48 31.59L396.73 31.82L396.98 32.05L397.23 32.28L397.48 32.52L397.73 32.75L397.98 32.99L398.23 33.23L398.48 33.47L398.73 33.71L398.98 33.96L399.23 34.21L399.48 34.45L399.73 34.7L399.98 34.95L400.23 35.21L400.48 35.46L400.73 35.72L400.98 35.98L401.23 36.24L401.48 36.5L401.73 36.76L401.98 37.02L402.23 37.28L402.48 37.54L402.73 37.8L402.98 38.06L403.23 38.32L403.48 38.59L403.73 38.85L403.98 39.12L404.23 39.38L404.48 39.65L404.73 39.92L404.98 40.19L405.22 40.46L405.47 40.73L405.72 41.01L405.97 41.28L406.22 41.56L406.47 41.84L406.72 42.12L406.97 42.4L407.22 42.69L407.47 42.97L407.72 43.26L407.97 43.56L408.22 43.85L408.47 44.15L408.72 44.45L408.97 44.75L409.22 45.05L409.47 45.36L409.72 45.67L409.97 45.98L410.22 46.3L410.47 46.62L410.72 46.94L410.97 47.27L411.22 47.6L411.47 47.93L411.72 48.27L411.97 48.61L412.22 48.96L412.47 49.31L412.72 49.66L412.97 50.02L413.22 50.38L413.47 50.74L413.72 51.11L413.97 51.48L414.22 51.86L414.47 52.25L414.72 52.63L414.97 53.03L415.22 53.42L415.47 53.83L415.72 54.23L415.97 54.65L416.22 55.06L416.47 55.49L416.72 55.92L416.97 56.36L417.22 56.8L417.47 57.26L417.72 57.72L417.97 58.19L418.22 58.66L418.47 59.15L418.72 59.64L418.97 60.14L419.22 60.65L419.47 61.16L419.72 61.68L419.97 62.21L420.22 62.75L420.47 63.29L420.72 63.85L420.97 64.4L421.22 64.97L421.47 65.54L421.72 66.12L421.97 66.71L422.22 67.31L422.46 67.91L422.71 68.52L422.96 69.14L423.21 69.76L423.46 70.39L423.71 71.03L423.96 71.68L424.21 72.33L424.46 72.99L424.71 73.66L424.96 74.33L425.21 75.01L425.46 75.7L425.71 76.4L425.96 77.1L426.21 77.81L426.46 78.52L426.71 79.25L426.96 79.97L427.21 80.71L427.46 81.45L427.71 82.2L427.96 82.96L428.21 83.73L428.46 84.5L428.71 85.27L428.96 86.06L429.21 86.85L429.46 87.65L429.71 88.45L429.96 89.26L430.21 90.08L430.46 90.9L430.71 91.73L430.96 92.57L431.21 93.41L431.46 94.26L431.71 95.13L431.96 96.02L432.21 96.94L432.46 97.89L432.71 98.86L432.96 99.86L433.21 100.88L433.46 101.92L433.71 102.99L433.96 104.08L434.21 105.19L434.46 106.32L434.71 107.47L434.96 108.64L435.21 109.82L435.46 111.02L435.71 112.24L435.96 113.47L436.21 114.72L436.46 115.98L436.71 117.25L436.96 118.53L437.21 119.83L437.46 121.13L437.71 122.44L437.96 123.77L438.21 125.11L438.46 126.49L438.71 127.9L438.96 129.35L439.21 130.84L439.46 132.35L439.7 133.88L439.95 135.44L440.2 137.03L440.45 138.62L440.7 140.24L440.95 141.86L441.2 143.5L441.45 145.14L441.7 146.79L441.95 148.44L442.2 150.09L442.45 151.73L442.7 153.37L442.95 154.98L443.2 156.54L443.45 158.04L443.7 159.51L443.95 160.96L444.2 162.41L444.45 163.88L444.7 165.38L444.95 166.92L445.2 168.54L445.45 170.23L445.7 172.02L445.95 173.93L446.2 175.97L446.45 178.16L446.7 180.51L446.95 183.35L447.2 186.8L447.45 190.55L447.7 194.3L447.95 198.07L448.2 202" fill="none" stroke="#009e73" stroke-width="1.15" stroke-linejoin="round"/>
<path d="M368 4L368.25 4.19L368.5 4.38L368.75 4.57L369 4.76L369.25 4.95L369.5 5.14L369.75 5.33L370 5.52L370.25 5.71L370.5 5.9L370.75 6.1L371 6.29L371.25 6.48L371.5 6.68L371.75 6.87L372 7.06L372.25 7.26L372.5 7.45L372.75 7.65L373 7.84L373.25 8.04L373.5 8.23L373.75 8.43L374 8.62L374.25 8.82L374.5 9.02L374.75 9.21L375 9.41L375.25 9.61L375.5 9.81L375.75 10L376 10.2L376.25 10.4L376.5 10.6L376.74 10.8L376.99 11L377.24 11.2L377.49 11.4L377.74 11.6L377.99 11.8L378.24 12L378.49 12.2L378.74 12.4L378.99 12.6L379.24 12.81L379.49 13.01L379.74 13.21L379.99 13.41L380.24 13.62L380.49 13.82L380.74 14.02L380.99 14.23L381.24 14.43L381.49 14.64L381.74 14.84L381.99 15.05L382.24 15.25L382.49 15.46L382.74 15.66L382.99 15.87L383.24 16.07L383.49 16.28L383.74 16.49L383.99 16.69L384.24 16.9L384.49 17.11L384.74 17.32L384.99 17.52L385.24 17.73L385.49 17.94L385.74 18.15L385.99 18.36L386.24 18.57L386.49 18.77L386.74 18.98L386.99 19.19L387.24 19.39L387.49 19.6L387.74 19.81L387.99 20.01L388.24 20.22L388.49 20.42L388.74 20.63L388.99 20.83L389.24 21.04L389.49 21.24L389.74 21.45L389.99 21.65L390.24 21.86L390.49 22.06L390.74 22.27L390.99 22.47L391.24 22.68L391.49 22.89L391.74 23.09L391.99 23.3L392.24 23.51L392.49 23.72L392.74 23.93L392.99 24.14L393.24 24.35L393.49 24.56L393.73 24.77L393.98 24.98L394.23 25.2L394.48 25.41L394.73 25.63L394.98 25.85L395.23 26.06L395.48 26.28L395.73 26.5L395.98 26.73L396.23 26.95L396.48 27.17L396.73 27.4L396.98 27.63L397.23 27.85L397.48 28.08L397.73 28.31L397.98 28.55L398.23 28.78L398.48 29.02L398.73 29.26L398.98 29.5L399.23 29.74L399.48 29.98L399.73 30.22L399.98 30.47L400.23 30.72L400.48 30.97L400.73 31.22L400.98 31.48L401.23 31.74L401.48 32L401.73 32.26L401.98 32.52L402.23 32.78L402.48 33.05L402.73 33.32L402.98 33.59L403.23 33.86L403.48 34.13L403.73 34.41L403.98 34.69L404.23 34.96L404.48 35.24L404.73 35.53L404.98 35.81L405.23 36.1L405.48 36.38L405.73 36.67L405.98 36.97L406.23 37.26L406.48 37.55L406.73 37.85L406.98 38.15L407.23 38.45L407.48 38.75L407.73 39.05L407.98 39.36L408.23 39.66L408.48 39.97L408.73 40.28L408.98 40.6L409.23 40.91L409.48 41.22L409.73 41.54L409.98 41.86L410.23 42.18L410.48 42.5L410.72 42.83L410.97 43.15L411.22 43.48L411.47 43.81L411.72 44.14L411.97 44.47L412.22 44.81L412.47 45.14L412.72 45.48L412.97 45.82L413.22 46.16L413.47 46.51L413.72 46.85L413.97 47.2L414.22 47.54L414.47 47.89L414.72 48.24L414.97 48.6L415.22 48.95L415.47 49.31L415.72 49.67L415.97 50.03L416.22 50.39L416.47 50.75L416.72 51.11L416.97 51.47L417.22 51.82L417.47 52.18L417.72 52.54L417.97 52.89L418.22 53.25L418.47 53.6L418.72 53.95L418.97 54.31L419.22 54.66L419.47 55.02L419.72 55.37L419.97 55.73L420.22 56.08L420.47 56.44L420.72 56.8L420.97 57.17L421.22 57.53L421.47 57.9L421.72 58.27L421.97 58.64L422.22 59.02L422.47 59.39L422.72 59.78L422.97 60.16L423.22 60.55L423.47 60.94L423.72 61.34L423.97 61.74L424.22 62.15L424.47 62.56L424.72 62.97L424.97 63.4L425.22 63.82L425.47 64.25L425.72 64.69L425.97 65.14L426.22 65.59L426.47 66.05L426.72 66.51L426.97 66.98L427.22 67.46L427.47 67.95L427.71 68.44L427.96 68.94L428.21 69.45L428.46 69.97L428.71 70.49L428.96 71.03L429.21 71.57L429.46 72.13L429.71 72.69L429.96 73.26L430.21 73.84L430.46 74.43L430.71 75.04L430.96 75.65L431.21 76.27L431.46 76.9L431.71 77.56L431.96 78.26L432.21 78.99L432.46 79.77L432.71 80.58L432.96 81.42L433.21 82.3L433.46 83.22L433.71 84.16L433.96 85.13L434.21 86.13L434.46 87.15L434.71 88.2L434.96 89.27L435.21 90.37L435.46 91.48L435.71 92.61L435.96 93.76L436.21 94.92L436.46 96.1L436.71 97.29L436.96 98.49L437.21 99.7L437.46 100.92L437.71 102.15L437.96 103.38L438.21 104.61L438.46 105.84L438.71 107.08L438.96 108.31L439.21 109.55L439.46 110.77L439.71 111.99L439.96 113.21L440.21 114.41L440.46 115.61L440.71 116.79L440.96 117.96L441.21 119.12L441.46 120.26L441.71 121.38L441.96 122.48L442.21 123.56L442.46 124.64L442.71 125.71L442.96 126.78L443.21 127.84L443.46 128.92L443.71 130L443.96 131.09L444.21 132.2L444.46 133.33L444.7 134.48L444.95 135.66L445.2 136.87L445.45 138.12L445.7 139.41L445.95 140.74L446.2 142.11L446.45 143.54L446.7 145.02L446.95 146.57L447.2 148.19L447.45 149.88L447.7 151.64L447.95 153.46L448.2 155.34L448.45 157.27L448.7 159.27L448.95 161.31L449.2 163.41L449.45 165.55L449.7 167.73L449.95 169.96L450.2 172.22L450.45 174.52L450.7 176.85L450.95 179.21L451.2 181.59L451.45 184L451.7 186.43L451.95 188.88L452.2 191.34L452.45 193.81L452.7 196.38L452.95 199.16L453.2 202" fill="none" stroke="#56b4e9" stroke-width="1.15" stroke-linejoin="round"/>
<path d="M378.5 4L378.75 4.19L379 4.39L379.25 4.58L379.5 4.78L379.75 4.97L380 5.17L380.24 5.36L380.49 5.56L380.74 5.76L380.99 5.95L381.24 6.15L381.49 6.35L381.74 6.54L381.99 6.74L382.24 6.94L382.49 7.14L382.74 7.33L382.99 7.53L383.24 7.73L383.49 7.93L383.73 8.13L383.98 8.33L384.23 8.53L384.48 8.73L384.73 8.93L384.98 9.13L385.23 9.34L385.48 9.54L385.73 9.74L385.98 9.95L386.23 10.15L386.48 10.35L386.73 10.56L386.98 10.76L387.22 10.96L387.47 11.17L387.72 11.37L387.97 11.58L388.22 11.78L388.47 11.99L388.72 12.19L388.97 12.4L389.22 12.6L389.47 12.81L389.72 13.02L389.97 13.22L390.22 13.43L390.46 13.64L390.71 13.84L390.96 14.05L391.21 14.26L391.46 14.46L391.71 14.67L391.96 14.88L392.21 15.09L392.46 15.3L392.71 15.51L392.96 15.72L393.21 15.93L393.46 16.13L393.71 16.34L393.95 16.55L394.2 16.76L394.45 16.98L394.7 17.19L394.95 17.4L395.2 17.61L395.45 17.82L395.7 18.03L395.95 18.24L396.2 18.46L396.45 18.67L396.7 18.88L396.95 19.09L397.2 19.31L397.44 19.52L397.69 19.74L397.94 19.95L398.19 20.16L398.44 20.38L398.69 20.59L398.94 20.81L399.19 21.03L399.44 21.24L399.69 21.46L399.94 21.67L400.19 21.89L400.44 22.11L400.68 22.32L400.93 22.54L401.18 22.76L401.43 22.98L401.68 23.19L401.93 23.41L402.18 23.62L402.43 23.84L402.68 24.05L402.93 24.27L403.18 24.48L403.43 24.69L403.68 24.91L403.93 25.12L404.17 25.33L404.42 25.54L404.67 25.76L404.92 25.97L405.17 26.18L405.42 26.39L405.67 26.61L405.92 26.82L406.17 27.03L406.42 27.25L406.67 27.46L406.92 27.67L407.17 27.89L407.41 28.1L407.66 28.32L407.91 28.54L408.16 28.75L408.41 28.97L408.66 29.19L408.91 29.41L409.16 29.63L409.41 29.85L409.66 30.07L409.91 30.29L410.16 30.52L410.41 30.74L410.66 30.97L410.9 31.19L411.15 31.42L411.4 31.65L411.65 31.88L411.9 32.12L412.15 32.35L412.4 32.59L412.65 32.82L412.9 33.06L413.15 33.3L413.4 33.54L413.65 33.79L413.9 34.03L414.15 34.28L414.39 34.53L414.64 34.78L414.89 35.03L415.14 35.29L415.39 35.54L415.64 35.8L415.89 36.07L416.14 36.33L416.39 36.59L416.64 36.86L416.89 37.13L417.14 37.4L417.39 37.66L417.63 37.93L417.88 38.2L418.13 38.47L418.38 38.74L418.63 39.01L418.88 39.28L419.13 39.56L419.38 39.83L419.63 40.11L419.88 40.38L420.13 40.66L420.38 40.94L420.63 41.22L420.88 41.51L421.12 41.79L421.37 42.08L421.62 42.37L421.87 42.66L422.12 42.95L422.37 43.24L422.62 43.54L422.87 43.84L423.12 44.14L423.37 44.44L423.62 44.75L423.87 45.06L424.12 45.37L424.37 45.68L424.61 46L424.86 46.32L425.11 46.64L425.36 46.97L425.61 47.3L425.86 47.63L426.11 47.97L426.36 48.31L426.61 48.65L426.86 48.99L427.11 49.34L427.36 49.7L427.61 50.06L427.85 50.42L428.1 50.78L428.35 51.15L428.6 51.53L428.85 51.9L429.1 52.29L429.35 52.67L429.6 53.06L429.85 53.46L430.1 53.86L430.35 54.26L430.6 54.67L430.85 55.09L431.1 55.51L431.34 55.93L431.59 56.36L431.84 56.8L432.09 57.24L432.34 57.69L432.59 58.14L432.84 58.6L433.09 59.06L433.34 59.53L433.59 60.01L433.84 60.5L434.09 60.99L434.34 61.48L434.59 61.98L434.83 62.49L435.08 63.01L435.33 63.53L435.58 64.06L435.83 64.6L436.08 65.14L436.33 65.69L436.58 66.25L436.83 66.81L437.08 67.38L437.33 67.96L437.58 68.54L437.83 69.14L438.07 69.74L438.32 70.34L438.57 70.96L438.82 71.58L439.07 72.21L439.32 72.85L439.57 73.49L439.82 74.15L440.07 74.81L440.32 75.48L440.57 76.15L440.82 76.84L441.07 77.53L441.32 78.23L441.56 78.94L441.81 79.66L442.06 80.38L442.31 81.12L442.56 81.86L442.81 82.61L443.06 83.37L443.31 84.14L443.56 84.92L443.81 85.71L444.06 86.5L444.31 87.31L444.56 88.12L444.8 88.94L445.05 89.77L445.3 90.62L445.55 91.47L445.8 92.33L446.05 93.19L446.3 94.07L446.55 94.96L446.8 95.86L447.05 96.81L447.3 97.8L447.55 98.84L447.8 99.93L448.05 101.05L448.29 102.22L448.54 103.42L448.79 104.65L449.04 105.91L449.29 107.2L449.54 108.52L449.79 109.86L450.04 111.22L450.29 112.59L450.54 113.98L450.79 115.38L451.04 116.79L451.29 118.21L451.54 119.63L451.78 121.07L452.03 122.56L452.28 124.11L452.53 125.71L452.78 127.34L453.03 129.01L453.28 130.71L453.53 132.43L453.78 134.16L454.03 135.91L454.28 137.66L454.53 139.41L454.78 141.15L455.02 142.88L455.27 144.59L455.52 146.27L455.77 147.92L456.02 149.54L456.27 151.1L456.52 152.62L456.77 154.07L457.02 155.44L457.27 156.74L457.52 157.98L457.77 159.18L458.02 160.34L458.27 161.47L458.51 162.6L458.76 163.72L459.01 164.84L459.26 165.99L459.51 167.16L459.76 168.38L460.01 169.64L460.26 170.97L460.51 172.37L460.76 173.85L461.01 175.43L461.26 177.11L461.51 178.9L461.76 180.82L462 182.95L462.25 185.74L462.5 188.99L462.75 192.38L463 195.58L463.25 198.77L463.5 202" fill="none" stroke="#ff0000" stroke-width="1.15" stroke-linejoin="round"/>
<path d="M371 4L371.25 4.2L371.5 4.4L371.75 4.59L372 4.79L372.25 4.99L372.5 5.19L372.75 5.39L373 5.59L373.24 5.79L373.49 5.99L373.74 6.19L373.99 6.39L374.24 6.59L374.49 6.79L374.74 6.99L374.99 7.19L375.24 7.39L375.49 7.59L375.74 7.79L375.99 8L376.24 8.2L376.49 8.4L376.74 8.6L376.99 8.81L377.24 9.01L377.48 9.21L377.73 9.41L377.98 9.62L378.23 9.82L378.48 10.03L378.73 10.23L378.98 10.43L379.23 10.64L379.48 10.84L379.73 11.05L379.98 11.25L380.23 11.46L380.48 11.66L380.73 11.87L380.98 12.08L381.23 12.28L381.48 12.49L381.72 12.7L381.97 12.9L382.22 13.11L382.47 13.32L382.72 13.52L382.97 13.73L383.22 13.94L383.47 14.15L383.72 14.36L383.97 14.56L384.22 14.77L384.47 14.98L384.72 15.19L384.97 15.4L385.22 15.61L385.47 15.82L385.72 16.03L385.96 16.24L386.21 16.45L386.46 16.66L386.71 16.87L386.96 17.07L387.21 17.28L387.46 17.49L387.71 17.7L387.96 17.9L388.21 18.11L388.46 18.32L388.71 18.52L388.96 18.73L389.21 18.94L389.46 19.14L389.71 19.35L389.96 19.56L390.2 19.76L390.45 19.97L390.7 20.18L390.95 20.38L391.2 20.59L391.45 20.8L391.7 21.01L391.95 21.22L392.2 21.42L392.45 21.63L392.7 21.84L392.95 22.05L393.2 22.26L393.45 22.47L393.7 22.69L393.95 22.9L394.2 23.11L394.44 23.32L394.69 23.54L394.94 23.75L395.19 23.97L395.44 24.19L395.69 24.4L395.94 24.62L396.19 24.84L396.44 25.06L396.69 25.28L396.94 25.5L397.19 25.73L397.44 25.95L397.69 26.18L397.94 26.4L398.19 26.63L398.44 26.86L398.68 27.09L398.93 27.32L399.18 27.56L399.43 27.79L399.68 28.03L399.93 28.27L400.18 28.5L400.43 28.74L400.68 28.99L400.93 29.23L401.18 29.48L401.43 29.72L401.68 29.97L401.93 30.21L402.18 30.46L402.43 30.71L402.68 30.96L402.92 31.2L403.17 31.45L403.42 31.7L403.67 31.95L403.92 32.21L404.17 32.46L404.42 32.71L404.67 32.96L404.92 33.22L405.17 33.48L405.42 33.73L405.67 33.99L405.92 34.25L406.17 34.51L406.42 34.77L406.67 35.04L406.92 35.3L407.16 35.57L407.41 35.83L407.66 36.1L407.91 36.37L408.16 36.64L408.41 36.92L408.66 37.19L408.91 37.47L409.16 37.74L409.41 38.02L409.66 38.31L409.91 38.59L410.16 38.87L410.41 39.16L410.66 39.45L410.91 39.74L411.16 40.03L411.4 40.33L411.65 40.63L411.9 40.92L412.15 41.23L412.4 41.53L412.65 41.84L412.9 42.14L413.15 42.46L413.4 42.77L413.65 43.08L413.9 43.4L414.15 43.72L414.4 44.05L414.65 44.37L414.9 44.7L415.15 45.03L415.4 45.37L415.64 45.7L415.89 46.04L416.14 46.38L416.39 46.73L416.64 47.08L416.89 47.42L417.14 47.77L417.39 48.13L417.64 48.48L417.89 48.83L418.14 49.19L418.39 49.55L418.64 49.91L418.89 50.27L419.14 50.64L419.39 51.01L419.64 51.38L419.88 51.75L420.13 52.12L420.38 52.5L420.63 52.88L420.88 53.27L421.13 53.66L421.38 54.05L421.63 54.44L421.88 54.84L422.13 55.24L422.38 55.64L422.63 56.05L422.88 56.46L423.13 56.88L423.38 57.3L423.63 57.72L423.88 58.15L424.12 58.58L424.37 59.02L424.62 59.46L424.87 59.91L425.12 60.36L425.37 60.82L425.62 61.28L425.87 61.74L426.12 62.21L426.37 62.69L426.62 63.17L426.87 63.66L427.12 64.15L427.37 64.65L427.62 65.15L427.87 65.66L428.12 66.17L428.36 66.69L428.61 67.22L428.86 67.75L429.11 68.29L429.36 68.84L429.61 69.39L429.86 69.95L430.11 70.52L430.36 71.09L430.61 71.67L430.86 72.26L431.11 72.85L431.36 73.45L431.61 74.06L431.86 74.68L432.11 75.31L432.36 75.96L432.6 76.61L432.85 77.28L433.1 77.95L433.35 78.64L433.6 79.34L433.85 80.05L434.1 80.77L434.35 81.51L434.6 82.25L434.85 83.01L435.1 83.78L435.35 84.56L435.6 85.35L435.85 86.16L436.1 86.97L436.35 87.8L436.6 88.63L436.84 89.48L437.09 90.34L437.34 91.21L437.59 92.1L437.84 92.99L438.09 93.9L438.34 94.82L438.59 95.75L438.84 96.69L439.09 97.64L439.34 98.6L439.59 99.58L439.84 100.56L440.09 101.56L440.34 102.57L440.59 103.59L440.84 104.62L441.08 105.67L441.33 106.72L441.58 107.79L441.83 108.87L442.08 109.96L442.33 111.06L442.58 112.17L442.83 113.3L443.08 114.43L443.33 115.58L443.58 116.74L443.83 117.91L444.08 119.09L444.33 120.28L444.58 121.48L444.83 122.7L445.08 123.93L445.32 125.16L445.57 126.41L445.82 127.68L446.07 128.95L446.32 130.23L446.57 131.53L446.82 132.84L447.07 134.2L447.32 135.6L447.57 137.04L447.82 138.53L448.07 140.07L448.32 141.64L448.57 143.25L448.82 144.91L449.07 146.6L449.32 148.32L449.56 150.08L449.81 151.87L450.06 153.7L450.31 155.55L450.56 157.44L450.81 159.35L451.06 161.28L451.31 163.25L451.56 165.23L451.81 167.24L452.06 169.27L452.31 171.32L452.56 173.39L452.81 175.47L453.06 177.57L453.31 179.68L453.56 181.81L453.8 183.94L454.05 186.09L454.3 188.25L454.55 190.41L454.8 192.58L455.05 194.76L455.3 197.08L455.55 199.53L455.8 202" fill="none" stroke="#ff0000" stroke-width="1.15" stroke-linejoin="round" stroke-dasharray="8 6.5" stroke-dashoffset="8.5"/>
<path d="M367.5 4L367.75 4.26L368 4.53L368.25 4.79L368.5 5.06L368.75 5.32L369 5.59L369.25 5.85L369.5 6.12L369.75 6.39L370 6.65L370.25 6.92L370.49 7.19L370.74 7.45L370.99 7.72L371.24 7.99L371.49 8.25L371.74 8.52L371.99 8.79L372.24 9.06L372.49 9.33L372.74 9.6L372.99 9.87L373.24 10.14L373.49 10.41L373.74 10.68L373.99 10.95L374.24 11.22L374.49 11.49L374.74 11.76L374.99 12.03L375.24 12.3L375.49 12.57L375.74 12.85L375.98 13.12L376.23 13.39L376.48 13.66L376.73 13.94L376.98 14.21L377.23 14.48L377.48 14.76L377.73 15.03L377.98 15.3L378.23 15.58L378.48 15.85L378.73 16.13L378.98 16.4L379.23 16.68L379.48 16.95L379.73 17.23L379.98 17.5L380.23 17.78L380.48 18.06L380.73 18.33L380.98 18.61L381.23 18.89L381.48 19.16L381.72 19.44L381.97 19.72L382.22 20L382.47 20.27L382.72 20.55L382.97 20.83L383.22 21.11L383.47 21.39L383.72 21.67L383.97 21.95L384.22 22.23L384.47 22.51L384.72 22.79L384.97 23.07L385.22 23.35L385.47 23.63L385.72 23.91L385.97 24.19L386.22 24.47L386.47 24.75L386.72 25.02L386.97 25.3L387.21 25.58L387.46 25.86L387.71 26.13L387.96 26.41L388.21 26.68L388.46 26.96L388.71 27.23L388.96 27.5L389.21 27.78L389.46 28.05L389.71 28.32L389.96 28.6L390.21 28.87L390.46 29.14L390.71 29.42L390.96 29.69L391.21 29.97L391.46 30.24L391.71 30.52L391.96 30.79L392.21 31.07L392.46 31.35L392.7 31.62L392.95 31.9L393.2 32.18L393.45 32.46L393.7 32.74L393.95 33.02L394.2 33.3L394.45 33.59L394.7 33.87L394.95 34.16L395.2 34.44L395.45 34.73L395.7 35.02L395.95 35.31L396.2 35.61L396.45 35.9L396.7 36.19L396.95 36.49L397.2 36.79L397.45 37.09L397.7 37.39L397.95 37.7L398.2 38L398.44 38.31L398.69 38.62L398.94 38.94L399.19 39.25L399.44 39.57L399.69 39.89L399.94 40.21L400.19 40.53L400.44 40.86L400.69 41.19L400.94 41.52L401.19 41.86L401.44 42.2L401.69 42.55L401.94 42.91L402.19 43.27L402.44 43.64L402.69 44.01L402.94 44.39L403.19 44.78L403.44 45.17L403.69 45.57L403.93 45.97L404.18 46.37L404.43 46.78L404.68 47.19L404.93 47.61L405.18 48.03L405.43 48.45L405.68 48.88L405.93 49.31L406.18 49.74L406.43 50.17L406.68 50.6L406.93 51.04L407.18 51.47L407.43 51.91L407.68 52.35L407.93 52.79L408.18 53.22L408.43 53.66L408.68 54.1L408.93 54.53L409.18 54.97L409.43 55.4L409.67 55.83L409.92 56.27L410.17 56.69L410.42 57.12L410.67 57.54L410.92 57.96L411.17 58.38L411.42 58.79L411.67 59.2L411.92 59.61L412.17 60.01L412.42 60.41L412.67 60.8L412.92 61.19L413.17 61.57L413.42 61.95L413.67 62.32L413.92 62.68L414.17 63.04L414.42 63.39L414.67 63.74L414.92 64.07L415.16 64.4L415.41 64.72L415.66 65.04L415.91 65.34L416.16 65.64L416.41 65.93L416.66 66.21L416.91 66.5L417.16 66.78L417.41 67.05L417.66 67.32L417.91 67.59L418.16 67.86L418.41 68.13L418.66 68.39L418.91 68.65L419.16 68.91L419.41 69.16L419.66 69.41L419.91 69.66L420.16 69.91L420.41 70.15L420.66 70.4L420.9 70.64L421.15 70.88L421.4 71.11L421.65 71.35L421.9 71.58L422.15 71.81L422.4 72.04L422.65 72.27L422.9 72.49L423.15 72.71L423.4 72.94L423.65 73.16L423.9 73.38L424.15 73.59L424.4 73.81L424.65 74.02L424.9 74.24L425.15 74.45L425.4 74.66L425.65 74.87L425.9 75.08L426.15 75.29L426.39 75.49L426.64 75.7L426.89 75.9L427.14 76.11L427.39 76.31L427.64 76.51L427.89 76.72L428.14 76.92L428.39 77.12L428.64 77.32L428.89 77.52L429.14 77.72L429.39 77.92L429.64 78.12L429.89 78.32L430.14 78.52L430.39 78.71L430.64 78.91L430.89 79.11L431.14 79.31L431.39 79.51L431.64 79.71L431.89 79.9L432.13 80.1L432.38 80.29L432.63 80.48L432.88 80.67L433.13 80.86L433.38 81.05L433.63 81.23L433.88 81.42L434.13 81.6L434.38 81.78L434.63 81.96L434.88 82.14L435.13 82.32L435.38 82.49L435.63 82.67L435.88 82.84L436.13 83.02L436.38 83.19L436.63 83.36L436.88 83.53L437.13 83.7L437.38 83.87L437.62 84.04L437.87 84.21L438.12 84.38L438.37 84.55L438.62 84.72L438.87 84.89L439.12 85.05L439.37 85.22L439.62 85.39L439.87 85.56L440.12 85.73L440.37 85.89L440.62 86.06L440.87 86.23L441.12 86.4L441.37 86.57L441.62 86.74L441.87 86.91L442.12 87.08L442.37 87.25L442.62 87.42L442.87 87.6L443.11 87.77L443.36 87.95L443.61 88.12L443.86 88.3L444.11 88.48L444.36 88.66L444.61 88.84L444.86 89.02L445.11 89.2L445.36 89.38L445.61 89.57L445.86 89.76L446.11 89.95L446.36 90.14L446.61 90.33L446.86 90.52L447.11 90.72L447.36 90.91L447.61 91.11L447.86 91.3L448.11 91.5L448.36 91.7L448.61 91.89L448.85 92.09L449.1 92.29L449.35 92.49L449.6 92.69L449.85 92.89L450.1 93.09L450.35 93.29L450.6 93.5L450.85 93.7L451.1 93.9L451.35 94.11L451.6 94.31L451.85 94.52L452.1 94.72L452.35 94.93L452.6 95.14L452.85 95.35L453.1 95.56L453.35 95.77L453.6 95.98L453.85 96.19L454.1 96.4L454.34 96.61L454.59 96.82L454.84 97.04L455.09 97.25L455.34 97.47L455.59 97.68L455.84 97.9L456.09 98.12L456.34 98.33L456.59 98.55L456.84 98.77L457.09 98.99L457.34 99.22L457.59 99.44L457.84 99.66L458.09 99.88L458.34 100.11L458.59 100.33L458.84 100.56L459.09 100.79L459.34 101.01L459.59 101.24L459.84 101.47L460.08 101.7L460.33 101.93L460.58 102.16L460.83 102.4L461.08 102.63L461.33 102.86L461.58 103.1L461.83 103.34L462.08 103.57L462.33 103.81L462.58 104.04L462.83 104.28L463.08 104.52L463.33 104.75L463.58 104.99L463.83 105.22L464.08 105.46L464.33 105.7L464.58 105.93L464.83 106.17L465.08 106.41L465.33 106.64L465.57 106.88L465.82 107.12L466.07 107.36L466.32 107.6L466.57 107.84L466.82 108.08L467.07 108.33L467.32 108.57L467.57 108.81L467.82 109.06L468.07 109.31L468.32 109.56L468.57 109.81L468.82 110.06L469.07 110.31L469.32 110.56L469.57 110.82L469.82 111.07L470.07 111.33L470.32 111.59L470.57 111.85L470.82 112.12L471.07 112.38L471.31 112.65L471.56 112.92L471.81 113.19L472.06 113.47L472.31 113.74L472.56 114.02L472.81 114.3L473.06 114.59L473.31 114.87L473.56 115.16L473.81 115.45L474.06 115.75L474.31 116.04L474.56 116.34L474.81 116.65L475.06 116.95L475.31 117.26L475.56 117.57L475.81 117.88L476.06 118.2L476.31 118.52L476.56 118.85L476.8 119.17L477.05 119.51L477.3 119.84L477.55 120.18L477.8 120.52L478.05 120.86L478.3 121.21L478.55 121.56L478.8 121.91L479.05 122.27L479.3 122.63L479.55 123L479.8 123.36L480.05 123.73L480.3 124.11L480.55 124.49L480.8 124.87L481.05 125.25L481.3 125.64L481.55 126.04L481.8 126.43L482.05 126.83L482.3 127.24L482.54 127.64L482.79 128.06L483.04 128.47L483.29 128.89L483.54 129.31L483.79 129.74L484.04 130.17L484.29 130.61L484.54 131.05L484.79 131.49L485.04 131.94L485.29 132.39L485.54 132.85L485.79 133.31L486.04 133.78L486.29 134.25L486.54 134.72L486.79 135.2L487.04 135.68L487.29 136.17L487.54 136.66L487.79 137.16L488.03 137.66L488.28 138.16L488.53 138.67L488.78 139.19L489.03 139.71L489.28 140.23L489.53 140.76L489.78 141.3L490.03 141.83L490.28 142.38L490.53 142.93L490.78 143.48L491.03 144.04L491.28 144.6L491.53 145.17L491.78 145.75L492.03 146.33L492.28 146.91L492.53 147.5L492.78 148.09L493.03 148.69L493.28 149.29L493.52 149.89L493.77 150.5L494.02 151.11L494.27 151.73L494.52 152.35L494.77 152.98L495.02 153.62L495.27 154.26L495.52 154.9L495.77 155.56L496.02 156.22L496.27 156.89L496.52 157.56L496.77 158.25L497.02 158.94L497.27 159.64L497.52 160.36L497.77 161.08L498.02 161.81L498.27 162.55L498.52 163.3L498.77 164.06L499.02 164.83L499.26 165.62L499.51 166.42L499.76 167.22L500.01 168.05L500.26 168.88L500.51 169.73L500.76 170.59L501.01 171.46L501.26 172.35L501.51 173.25L501.76 174.17L502.01 175.1L502.26 176.05L502.51 177.01L502.76 177.99L503.01 178.98L503.26 180L503.51 181.03L503.76 182.07L504.01 183.14L504.26 184.22L504.51 185.32L504.75 186.44L505 187.57L505.25 188.73L505.5 189.91L505.75 191.1L506 192.32L506.25 193.56L506.5 194.85L506.75 196.42L507 198.23L507.25 200.13L507.5 202" fill="none" stroke="#009e73" stroke-width="1.15" stroke-linejoin="round" stroke-dasharray="8 6.5" stroke-dashoffset="7.8"/>
<path d="M368.5 4L368.75 4.23L369 4.46L369.25 4.69L369.5 4.92L369.75 5.15L370 5.38L370.25 5.61L370.5 5.84L370.75 6.07L370.99 6.3L371.24 6.53L371.49 6.77L371.74 7L371.99 7.23L372.24 7.47L372.49 7.7L372.74 7.94L372.99 8.17L373.24 8.41L373.49 8.65L373.74 8.88L373.99 9.12L374.24 9.36L374.49 9.6L374.74 9.84L374.99 10.07L375.24 10.31L375.49 10.55L375.74 10.79L375.98 11.03L376.23 11.28L376.48 11.52L376.73 11.76L376.98 12L377.23 12.24L377.48 12.49L377.73 12.73L377.98 12.97L378.23 13.22L378.48 13.46L378.73 13.71L378.98 13.95L379.23 14.2L379.48 14.44L379.73 14.69L379.98 14.94L380.23 15.18L380.48 15.43L380.73 15.68L380.97 15.93L381.22 16.18L381.47 16.43L381.72 16.67L381.97 16.92L382.22 17.17L382.47 17.42L382.72 17.68L382.97 17.93L383.22 18.18L383.47 18.43L383.72 18.68L383.97 18.94L384.22 19.19L384.47 19.44L384.72 19.7L384.97 19.95L385.22 20.2L385.47 20.46L385.72 20.71L385.96 20.97L386.21 21.22L386.46 21.48L386.71 21.73L386.96 21.98L387.21 22.23L387.46 22.48L387.71 22.74L387.96 22.99L388.21 23.24L388.46 23.49L388.71 23.74L388.96 23.99L389.21 24.24L389.46 24.48L389.71 24.73L389.96 24.98L390.21 25.23L390.46 25.48L390.71 25.74L390.95 25.99L391.2 26.24L391.45 26.49L391.7 26.74L391.95 27L392.2 27.25L392.45 27.51L392.7 27.76L392.95 28.02L393.2 28.28L393.45 28.54L393.7 28.79L393.95 29.06L394.2 29.32L394.45 29.58L394.7 29.85L394.95 30.11L395.2 30.38L395.45 30.65L395.7 30.92L395.94 31.2L396.19 31.47L396.44 31.75L396.69 32.03L396.94 32.31L397.19 32.59L397.44 32.87L397.69 33.16L397.94 33.45L398.19 33.74L398.44 34.03L398.69 34.33L398.94 34.63L399.19 34.93L399.44 35.23L399.69 35.54L399.94 35.85L400.19 36.16L400.44 36.48L400.69 36.79L400.93 37.12L401.18 37.44L401.43 37.77L401.68 38.1L401.93 38.44L402.18 38.78L402.43 39.13L402.68 39.48L402.93 39.84L403.18 40.2L403.43 40.56L403.68 40.93L403.93 41.3L404.18 41.67L404.43 42.05L404.68 42.43L404.93 42.82L405.18 43.21L405.43 43.6L405.68 43.99L405.92 44.39L406.17 44.79L406.42 45.19L406.67 45.59L406.92 46L407.17 46.41L407.42 46.82L407.67 47.24L407.92 47.65L408.17 48.07L408.42 48.49L408.67 48.91L408.92 49.33L409.17 49.75L409.42 50.18L409.67 50.61L409.92 51.03L410.17 51.46L410.42 51.89L410.66 52.32L410.91 52.75L411.16 53.18L411.41 53.61L411.66 54.05L411.91 54.48L412.16 54.91L412.41 55.34L412.66 55.77L412.91 56.21L413.16 56.64L413.41 57.07L413.66 57.5L413.91 57.93L414.16 58.36L414.41 58.79L414.66 59.22L414.91 59.64L415.16 60.07L415.41 60.49L415.65 60.91L415.9 61.34L416.15 61.76L416.4 62.17L416.65 62.6L416.9 63.02L417.15 63.45L417.4 63.89L417.65 64.33L417.9 64.77L418.15 65.22L418.4 65.67L418.65 66.13L418.9 66.58L419.15 67.04L419.4 67.51L419.65 67.97L419.9 68.44L420.15 68.91L420.4 69.38L420.64 69.85L420.89 70.32L421.14 70.79L421.39 71.27L421.64 71.74L421.89 72.22L422.14 72.69L422.39 73.16L422.64 73.64L422.89 74.11L423.14 74.58L423.39 75.05L423.64 75.52L423.89 75.99L424.14 76.46L424.39 76.92L424.64 77.38L424.89 77.84L425.14 78.3L425.39 78.75L425.63 79.2L425.88 79.65L426.13 80.09L426.38 80.53L426.63 80.97L426.88 81.4L427.13 81.83L427.38 82.25L427.63 82.66L427.88 83.07L428.13 83.48L428.38 83.88L428.63 84.27L428.88 84.66L429.13 85.04L429.38 85.42L429.63 85.78L429.88 86.14L430.13 86.5L430.38 86.84L430.62 87.18L430.87 87.51L431.12 87.83L431.37 88.14L431.62 88.45L431.87 88.75L432.12 89.04L432.37 89.33L432.62 89.62L432.87 89.9L433.12 90.17L433.37 90.44L433.62 90.71L433.87 90.97L434.12 91.23L434.37 91.49L434.62 91.74L434.87 91.99L435.12 92.23L435.37 92.47L435.61 92.71L435.86 92.95L436.11 93.18L436.36 93.41L436.61 93.64L436.86 93.87L437.11 94.09L437.36 94.31L437.61 94.53L437.86 94.75L438.11 94.97L438.36 95.18L438.61 95.4L438.86 95.61L439.11 95.83L439.36 96.04L439.61 96.25L439.86 96.46L440.11 96.67L440.36 96.88L440.6 97.09L440.85 97.3L441.1 97.51L441.35 97.72L441.6 97.93L441.85 98.14L442.1 98.36L442.35 98.57L442.6 98.78L442.85 99L443.1 99.22L443.35 99.44L443.6 99.66L443.85 99.88L444.1 100.1L444.35 100.33L444.6 100.56L444.85 100.79L445.1 101.03L445.35 101.26L445.59 101.5L445.84 101.74L446.09 101.99L446.34 102.24L446.59 102.49L446.84 102.75L447.09 103L447.34 103.26L447.59 103.51L447.84 103.77L448.09 104.02L448.34 104.27L448.59 104.53L448.84 104.78L449.09 105.04L449.34 105.29L449.59 105.55L449.84 105.81L450.09 106.06L450.34 106.32L450.58 106.57L450.83 106.83L451.08 107.09L451.33 107.35L451.58 107.61L451.83 107.87L452.08 108.13L452.33 108.39L452.58 108.66L452.83 108.92L453.08 109.18L453.33 109.45L453.58 109.72L453.83 109.99L454.08 110.26L454.33 110.53L454.58 110.8L454.83 111.07L455.08 111.35L455.32 111.63L455.57 111.91L455.82 112.19L456.07 112.47L456.32 112.75L456.57 113.04L456.82 113.33L457.07 113.62L457.32 113.91L457.57 114.2L457.82 114.5L458.07 114.8L458.32 115.1L458.57 115.4L458.82 115.71L459.07 116.02L459.32 116.33L459.57 116.64L459.82 116.95L460.07 117.27L460.31 117.59L460.56 117.92L460.81 118.24L461.06 118.57L461.31 118.91L461.56 119.24L461.81 119.58L462.06 119.92L462.31 120.26L462.56 120.61L462.81 120.95L463.06 121.3L463.31 121.65L463.56 122L463.81 122.36L464.06 122.71L464.31 123.07L464.56 123.43L464.81 123.79L465.06 124.15L465.3 124.52L465.55 124.89L465.8 125.26L466.05 125.64L466.3 126.01L466.55 126.39L466.8 126.78L467.05 127.16L467.3 127.55L467.55 127.94L467.8 128.34L468.05 128.74L468.3 129.14L468.55 129.55L468.8 129.95L469.05 130.37L469.3 130.78L469.55 131.21L469.8 131.63L470.05 132.06L470.29 132.49L470.54 132.93L470.79 133.37L471.04 133.81L471.29 134.26L471.54 134.72L471.79 135.18L472.04 135.64L472.29 136.11L472.54 136.58L472.79 137.06L473.04 137.54L473.29 138.03L473.54 138.52L473.79 139.02L474.04 139.52L474.29 140.03L474.54 140.55L474.79 141.07L475.04 141.59L475.28 142.12L475.53 142.66L475.78 143.2L476.03 143.75L476.28 144.31L476.53 144.87L476.78 145.43L477.03 146.01L477.28 146.59L477.53 147.18L477.78 147.78L478.03 148.39L478.28 149.01L478.53 149.64L478.78 150.28L479.03 150.93L479.28 151.59L479.53 152.27L479.78 152.95L480.03 153.64L480.27 154.34L480.52 155.06L480.77 155.78L481.02 156.51L481.27 157.25L481.52 158.01L481.77 158.77L482.02 159.54L482.27 160.33L482.52 161.12L482.77 161.92L483.02 162.74L483.27 163.56L483.52 164.39L483.77 165.23L484.02 166.09L484.27 166.95L484.52 167.82L484.77 168.7L485.02 169.59L485.26 170.49L485.51 171.41L485.76 172.33L486.01 173.26L486.26 174.2L486.51 175.15L486.76 176.1L487.01 177.07L487.26 178.05L487.51 179.04L487.76 180.04L488.01 181.04L488.26 182.06L488.51 183.09L488.76 184.12L489.01 185.17L489.26 186.22L489.51 187.28L489.76 188.36L490.01 189.44L490.25 190.53L490.5 191.63L490.75 192.74L491 193.86L491.25 195.02L491.5 196.3L491.75 197.67L492 199.1L492.25 200.56L492.5 202" fill="none" stroke="#56b4e9" stroke-width="1.15" stroke-linejoin="round" stroke-dasharray="8 6.5" stroke-dashoffset="8.6"/>
<rect x="367.9" y="8.1" width="5.4" height="5.4" fill="none" stroke="#009e73" stroke-width="1.1"/>
<rect x="413.6" y="52.5" width="5.4" height="5.4" fill="none" stroke="#009e73" stroke-width="1.1"/>
<rect x="428.8" y="91.7" width="5.4" height="5.4" fill="none" stroke="#009e73" stroke-width="1.1"/>
<rect x="444" y="177.8" width="5.4" height="5.4" fill="none" stroke="#009e73" stroke-width="1.1"/>
<circle cx="385.8" cy="18.2" r="2.8" fill="none" stroke="#56b4e9" stroke-width="1.05"/>
<circle cx="401" cy="31.5" r="2.8" fill="none" stroke="#56b4e9" stroke-width="1.05"/>
<circle cx="416.3" cy="50.5" r="2.8" fill="none" stroke="#56b4e9" stroke-width="1.05"/>
<circle cx="431.5" cy="77" r="2.8" fill="none" stroke="#56b4e9" stroke-width="1.05"/>
<circle cx="446.7" cy="145" r="2.8" fill="none" stroke="#56b4e9" stroke-width="1.05"/>
<polygon points="385.8,6.4 388.74,11.5 382.86,11.5" fill="none" stroke="#ff0000" stroke-width="1.1"/>
<polygon points="401,19.2 403.94,24.3 398.06,24.3" fill="none" stroke="#ff0000" stroke-width="1.1"/>
<polygon points="416.3,33.1 419.24,38.2 413.36,38.2" fill="none" stroke="#ff0000" stroke-width="1.1"/>
<polygon points="431.5,52.8 434.44,57.9 428.56,57.9" fill="none" stroke="#ff0000" stroke-width="1.1"/>
<polygon points="446.7,92.1 449.64,97.2 443.76,97.2" fill="none" stroke="#ff0000" stroke-width="1.1"/>
<polygon points="461.9,178.6 464.84,183.7 458.96,183.7" fill="none" stroke="#ff0000" stroke-width="1.1"/>
<polygon points="385.8,12.75 388.7,17.78 382.9,17.78" fill="#ff0000" stroke="#ff0000" stroke-width="0.4" stroke-linejoin="miter"/>
<polygon points="401,25.95 403.9,30.98 398.1,30.98" fill="#ff0000" stroke="#ff0000" stroke-width="0.4" stroke-linejoin="miter"/>
<polygon points="416.3,43.25 419.2,48.27 413.4,48.27" fill="#ff0000" stroke="#ff0000" stroke-width="0.4" stroke-linejoin="miter"/>
<polygon points="431.5,70.45 434.4,75.47 428.6,75.47" fill="#ff0000" stroke="#ff0000" stroke-width="0.4" stroke-linejoin="miter"/>
<polygon points="446.7,128.85 449.6,133.88 443.8,133.88" fill="#ff0000" stroke="#ff0000" stroke-width="0.4" stroke-linejoin="miter"/>
<rect x="382.65" y="20.85" width="6.3" height="6.3" fill="#009e73" stroke="#009e73" stroke-width="0.5"/>
<rect x="397.85" y="38.45" width="6.3" height="6.3" fill="#009e73" stroke="#009e73" stroke-width="0.5"/>
<rect x="413.15" y="62.65" width="6.3" height="6.3" fill="#009e73" stroke="#009e73" stroke-width="0.5"/>
<rect x="428.35" y="76.45" width="6.3" height="6.3" fill="#009e73" stroke="#009e73" stroke-width="0.5"/>
<rect x="443.55" y="87.25" width="6.3" height="6.3" fill="#009e73" stroke="#009e73" stroke-width="0.5"/>
<rect x="458.75" y="100.25" width="6.3" height="6.3" fill="#009e73" stroke="#009e73" stroke-width="0.5"/>
<rect x="474.05" y="116.55" width="6.3" height="6.3" fill="#009e73" stroke="#009e73" stroke-width="0.5"/>
<rect x="489.25" y="144.05" width="6.3" height="6.3" fill="#009e73" stroke="#009e73" stroke-width="0.5"/>
<circle cx="385.8" cy="20.8" r="3.4" fill="#56b4e9"/>
<circle cx="401" cy="37.2" r="3.4" fill="#56b4e9"/>
<circle cx="416.3" cy="62" r="3.4" fill="#56b4e9"/>
<circle cx="431.5" cy="88.3" r="3.4" fill="#56b4e9"/>
<circle cx="446.7" cy="102.6" r="3.4" fill="#56b4e9"/>
<circle cx="461.9" cy="119.7" r="3.4" fill="#56b4e9"/>
<circle cx="477.2" cy="146.4" r="3.4" fill="#56b4e9"/>
</g>
<rect x="328.7" y="7.2" width="209.5" height="187.3" fill="none" stroke="#4a4a4a" stroke-width="1.1"/>
<g font-family="Liberation Serif, serif" fill="#111" font-size="9.3" stroke="#111" stroke-width="0.12">
<text x="347.75" y="206.6" text-anchor="middle">100</text>
<text x="385.84" y="206.6" text-anchor="middle">110</text>
<text x="423.93" y="206.6" text-anchor="middle">120</text>
<text x="462.02" y="206.6" text-anchor="middle">130</text>
<text x="500.11" y="206.6" text-anchor="middle">140</text>
<text x="538.2" y="206.6" text-anchor="middle">150</text>
<text x="319.4" y="10.9" text-anchor="end">0.5</text>
<text x="299.5" y="39.36">10<tspan font-size="7.3" dy="-3.7" dx="0.5" letter-spacing="0.6">&#8722;1</tspan></text>
<text x="299.5" y="79.22">10<tspan font-size="7.3" dy="-3.7" dx="0.5" letter-spacing="0.6">&#8722;2</tspan></text>
<text x="299.5" y="119.08">10<tspan font-size="7.3" dy="-3.7" dx="0.5" letter-spacing="0.6">&#8722;3</tspan></text>
<text x="299.5" y="158.94">10<tspan font-size="7.3" dy="-3.7" dx="0.5" letter-spacing="0.6">&#8722;4</tspan></text>
<text x="299.5" y="198.8">10<tspan font-size="7.3" dy="-3.7" dx="0.5" letter-spacing="0.6">&#8722;5</tspan></text>
</g>
<g font-family="Liberation Serif, serif"><text x="410.3" y="218.3" font-style="italic" font-size="7.6" fill="#1a1a1a">E</text><text x="414.8" y="220.6" font-size="5.6" fill="#333">s</text><text x="417.9" y="220.6" font-size="11.5" fill="#333" stroke="#333" stroke-width="0.35">/</text><text x="422.6" y="218.3" font-style="italic" font-size="7.6" fill="#1a1a1a">N</text><text x="428.3" y="221.2" font-size="5.6" fill="#333">0</text><text x="434.4" y="219.6" font-size="9.3" fill="#111" textLength="22.6" lengthAdjust="spacingAndGlyphs">in dB</text></g>
<text transform="translate(296.6,101.4) rotate(-90)" text-anchor="middle" font-family="Liberation Serif, serif" font-size="8.4" fill="#111" textLength="120" lengthAdjust="spacingAndGlyphs">Bit error rate (upper bound)</text>
<text x="419.6" y="242.4" text-anchor="middle" font-family="Liberation Serif, serif" font-size="12.2" fill="#111" textLength="107" lengthAdjust="spacingAndGlyphs">(<tspan font-weight="bold">b</tspan>) SM at 8 bits/s/Hz</text>
</svg></body></html>
